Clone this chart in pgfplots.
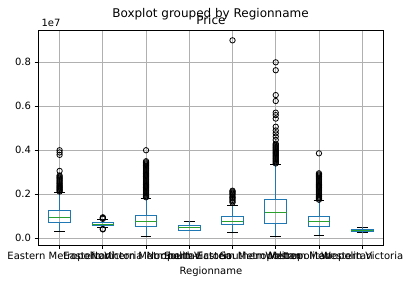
\documentclass[border=0pt]{standalone}
\usepackage{fontspec}
\setmainfont{DejaVu Sans}
\usepackage{pgfplots}
\pgfplotsset{compat=1.18}
\usepgfplotslibrary{statistics}
\definecolor{cz}{HTML}{1F77B4}
\definecolor{ct}{HTML}{2CA02C}
\definecolor{cg}{HTML}{B0B0B0}
% #1 pos, #2 lower whisker, #3 lower quartile, #4 median, #5 upper quartile, #6 upper whisker, #7 outliers
\newcommand\bx[7]{%
\addplot[black, line width=0.9pt, forget plot, mark=none,
  boxplot/draw direction=y,
  boxplot prepared={draw position=#1, lower whisker=#2, lower quartile=#3,
    median=#4, upper quartile=#5, upper whisker=#6, box extend=0.5, whisker extend=0.25,
    every box/.style={draw=none}, every median/.style={draw=none}}] coordinates {};
\addplot[cz, line width=0.9pt, forget plot, mark=o, mark size=2.7pt,
  mark options={black, solid, line width=0.8pt},
  boxplot/draw direction=y,
  boxplot prepared={draw position=#1, lower whisker=#2, lower quartile=#3,
    median=#4, upper quartile=#5, upper whisker=#6, box extend=0.5, whisker extend=0,
    every median/.style={draw=ct, line width=0.9pt}}]
  table[row sep=\\, y index=0] {#7};
}
\begin{document}
\begin{tikzpicture}
\useasboundingbox (0,0) rectangle (410pt,284pt);
\node[font=\fontsize{12}{14}\selectfont, anchor=base] at (210.5pt,266.7pt) {Boxplot grouped by Regionname};
\begin{axis}[at={(38pt,39pt)}, anchor=south west, width=345.8pt, height=215pt, scale only axis,
  xmin=0.5, xmax=8.5, ymin=-0.031, ymax=0.947,
  xtick={1,2,3,4,5,6,7,8},
  xticklabels={Eastern Metropolitan, Eastern Victoria, Northern Metropolitan, Northern Victoria, South-Eastern Metropolitan, Southern Metropolitan, Western Metropolitan, Western Victoria},
  ytick={0,0.2,0.4,0.6,0.8},
  yticklabel style={/pgf/number format/.cd, fixed, fixed zerofill, precision=1},
  /pgf/number format/assume math mode=true,
  grid=major, major grid style={cg, line width=0.8pt},
  tick align=outside, tick pos=left, major tick length=3.5pt,
  tick style={black, line width=0.8pt}, axis line style={line width=0.8pt},
  ticklabel style={font=\fontsize{10}{12}\selectfont},
  clip=false]
\bx{1}{0.032}{0.073}{0.0955}{0.127}{0.209}{data\\0.212\\0.216\\0.220\\0.224\\0.228\\0.232\\0.236\\0.240\\0.245\\0.250\\0.255\\0.260\\0.265\\0.270\\0.275\\0.280\\0.285\\0.306\\0.379\\0.390\\0.400\\}
\bx{2}{0.048}{0.057}{0.063}{0.0695}{0.085}{data\\0.088\\0.092\\0.095\\0.040\\0.042\\}
\bx{3}{0.010}{0.0527}{0.074}{0.1045}{0.182}{data\\0.186\\0.190\\0.195\\0.200\\0.205\\0.210\\0.215\\0.220\\0.225\\0.230\\0.235\\0.240\\0.245\\0.250\\0.255\\0.260\\0.265\\0.270\\0.275\\0.280\\0.285\\0.290\\0.295\\0.300\\0.305\\0.310\\0.315\\0.320\\0.325\\0.330\\0.335\\0.340\\0.345\\0.350\\0.400\\}
\bx{4}{0.033}{0.036}{0.050}{0.059}{0.077}{data\\}
\bx{5}{0.027}{0.0636}{0.077}{0.100}{0.147}{data\\0.162\\0.168\\0.174\\0.180\\0.185\\0.189\\0.197\\0.202\\0.207\\0.212\\0.216\\0.900\\}
\bx{6}{0.010}{0.068}{0.118}{0.177}{0.336}{data\\0.340\\0.345\\0.350\\0.355\\0.360\\0.365\\0.370\\0.375\\0.380\\0.385\\0.390\\0.395\\0.400\\0.405\\0.410\\0.415\\0.420\\0.425\\0.430\\0.447\\0.462\\0.477\\0.490\\0.507\\0.544\\0.560\\0.571\\0.624\\0.651\\0.764\\0.800\\}
\bx{7}{0.0136}{0.0545}{0.074}{0.100}{0.171}{data\\0.175\\0.180\\0.185\\0.190\\0.195\\0.200\\0.205\\0.210\\0.215\\0.220\\0.225\\0.230\\0.235\\0.240\\0.245\\0.250\\0.255\\0.260\\0.265\\0.270\\0.275\\0.280\\0.285\\0.290\\0.295\\0.386\\}
\bx{8}{0.027}{0.030}{0.0355}{0.042}{0.050}{data\\}
\node[font=\fontsize{12}{14}\selectfont, anchor=base] at (rel axis cs:0.5,1) [yshift=6pt] {Price};
\node[font=\fontsize{10}{12}\selectfont, anchor=base west] at (rel axis cs:0,1) [yshift=3.5pt] {1e7};
\node[font=\fontsize{10}{12}\selectfont, anchor=base] at (rel axis cs:0.5,0) [yshift=-29pt] {Regionname};
\end{axis}
\end{tikzpicture}
\end{document}
